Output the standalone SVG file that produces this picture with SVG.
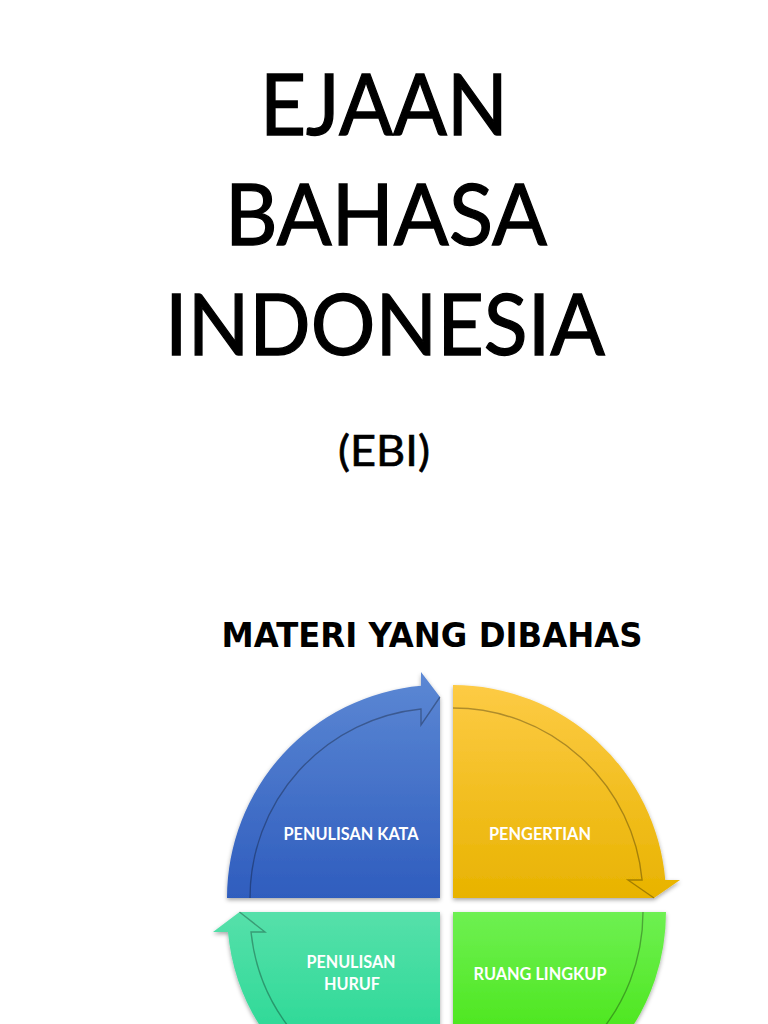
<svg xmlns="http://www.w3.org/2000/svg" width="768" height="1024" viewBox="0 0 768 1024">
<defs>
<style>
.title{font-family:Lato,"Open Sans","Liberation Sans",sans-serif;font-size:85px;fill:#000;stroke:#000;stroke-width:1.3px;text-anchor:middle}
.sub{font-family:Lato,"Open Sans","Liberation Sans",sans-serif;font-size:42px;fill:#000;stroke:#000;stroke-width:0.6px;text-anchor:middle}
.head{font-family:"DejaVu Sans","Liberation Sans",sans-serif;font-weight:bold;font-size:33px;fill:#000;text-anchor:middle}
.lbl{font-family:Lato,"Open Sans","Liberation Sans",sans-serif;font-weight:bold;font-size:16.5px;fill:#fff;text-anchor:middle}
.edge{fill:none;stroke:#000;stroke-opacity:0.3;stroke-width:1.4}
</style>
<linearGradient id="gBlue" x1="0" y1="0" x2="0" y2="1"><stop offset="0" stop-color="#5c88d4"/><stop offset="1" stop-color="#2f5dbe"/></linearGradient>
<linearGradient id="gYel" x1="0" y1="0" x2="0" y2="1"><stop offset="0" stop-color="#fdcb45"/><stop offset="1" stop-color="#e8b300"/></linearGradient>
<linearGradient id="gTeal" x1="0" y1="0" x2="0" y2="1"><stop offset="0" stop-color="#56e0aa"/><stop offset="1" stop-color="#2cd996"/></linearGradient>
<linearGradient id="gGreen" x1="0" y1="0" x2="0" y2="1"><stop offset="0" stop-color="#6ef052"/><stop offset="1" stop-color="#4be61b"/></linearGradient>
<filter id="sh" x="-10%" y="-10%" width="120%" height="120%"><feDropShadow dx="0" dy="2" stdDeviation="2" flood-color="#000" flood-opacity="0.35"/></filter>
<filter id="blur" x="-5%" y="-5%" width="110%" height="110%"><feGaussianBlur stdDeviation="0.6"/></filter>
</defs>
<rect width="768" height="1024" fill="#fff"/>
<g id="title">
<text class="title" x="384" y="135" textLength="248" lengthAdjust="spacingAndGlyphs">EJAAN</text>
<text class="title" x="386" y="245" textLength="322" lengthAdjust="spacingAndGlyphs">BAHASA</text>
<text class="title" x="385" y="355" textLength="440" lengthAdjust="spacingAndGlyphs">INDONESIA</text>
<text class="sub" x="384" y="466" textLength="92" lengthAdjust="spacingAndGlyphs">(EBI)</text>
<text class="head" x="432" y="647" textLength="421" lengthAdjust="spacingAndGlyphs">MATERI YANG DIBAHAS</text>
</g>
<g id="penulisan-kata">
<path d="M227,898 A213,213 0 0 1 421,685.85 L421,672 L440,697 L440,898 Z" fill="url(#gBlue)" filter="url(#sh)"/>
<path class="edge" filter="url(#blur)" d="M250,898 A190,190 0 0 1 421,708.95 L421,725 L440,697"/>
<text class="lbl" x="351" y="840" textLength="135" lengthAdjust="spacingAndGlyphs">PENULISAN KATA</text>
</g>
<g id="pengertian">
<path d="M453,685 A213,213 0 0 1 665.24,880 L680,880 L654,898 L453,898 Z" fill="url(#gYel)" filter="url(#sh)"/>
<path class="edge" filter="url(#blur)" d="M453,708 A190,190 0 0 1 642.1,880 L628,880 L654,898"/>
<text class="lbl" x="540" y="840" textLength="102" lengthAdjust="spacingAndGlyphs">PENGERTIAN</text>
</g>
<g id="penulisan-huruf">
<path d="M440,912 L239.5,912 L213,932 L227.94,932 A213,213 0 0 0 269.75,1040 L440,1040 Z" fill="url(#gTeal)" filter="url(#sh)"/>
<path class="edge" filter="url(#blur)" d="M239.5,912 L265,932 L251,932 A190,190 0 0 0 299.6,1040"/>
<text class="lbl" x="351" y="968" textLength="89" lengthAdjust="spacingAndGlyphs">PENULISAN</text>
<text class="lbl" x="352" y="990" textLength="56" lengthAdjust="spacingAndGlyphs">HURUF</text>
</g>
<g id="ruang-lingkup">
<path d="M453,912 L666,912 A213,213 0 0 1 623.25,1040 L453,1040 Z" fill="url(#gGreen)" filter="url(#sh)"/>
<path class="edge" filter="url(#blur)" d="M643,912 A190,190 0 0 1 593.4,1040"/>
<text class="lbl" x="540" y="980" textLength="133" lengthAdjust="spacingAndGlyphs">RUANG LINGKUP</text>
</g>
</svg>
